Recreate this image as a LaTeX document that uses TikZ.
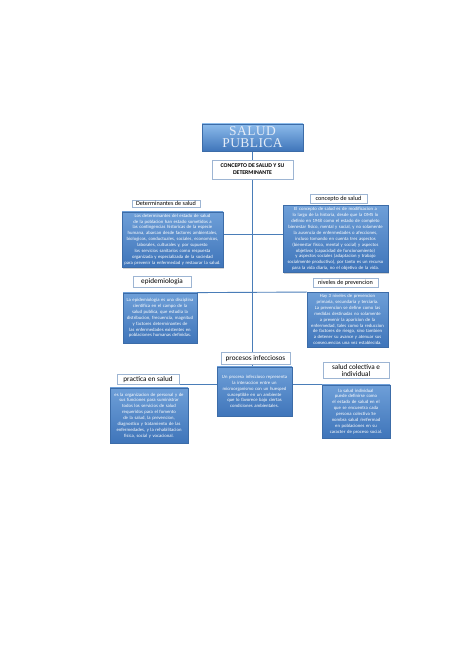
\documentclass[tikz,border=0pt]{standalone}
\usepackage{fontspec}
\setmainfont{Carlito}
\newfontfamily\titlefont[LetterSpace=3]{Liberation Serif}
\usetikzlibrary{positioning}
\usetikzlibrary{backgrounds}
\usetikzlibrary{shadows}
\definecolor{boxtop}{HTML}{6E9FD8}
\definecolor{boxbot}{HTML}{3F75BA}
\definecolor{boxedge}{HTML}{3C6CA8}
\definecolor{tagedge}{HTML}{9DB5D3}
\definecolor{linkblue}{HTML}{4A7DB8}
\definecolor{titletext}{HTML}{E4ECF7}
\definecolor{titletop}{HTML}{8CBBEB}
\newcommand\boxfont{\fontsize{4.7}{5.9}\selectfont\hyphenpenalty 10000\exhyphenpenalty 10000\relax}
\tikzset{
  bluebox/.style={draw=boxedge,line width=0.4pt,top color=boxtop,bottom color=boxbot,
    text=white,align=center,inner sep=2pt,font=\boxfont,
    drop shadow={shadow xshift=1pt,shadow yshift=-1.5pt,opacity=0.35}},
  tag/.style={draw=tagedge,line width=0.5pt,fill=white,align=center,inner sep=1.5pt,
    font=\fontsize{6.2}{7}\selectfont},
  link/.style={draw=linkblue,line width=0.9pt}
}
\begin{document}
\begin{tikzpicture}[x=1pt,y=1pt]
  \useasboundingbox (0,0) rectangle (474,669);
  \node[bluebox,minimum width=101pt,minimum height=27pt,text=titletext,top color=titletop,
    font=\titlefont\fontsize{13.5}{12}\selectfont](salud) at (252.5,531.5) {SALUD\\PUBLICA};
  \node[tag,minimum width=81pt,minimum height=19pt,
    font=\bfseries\fontsize{5.8}{6.8}\selectfont](concepto) at (252.5,499.5) {CONCEPTO DE SALUD Y SU\\DETERMINANTE};
  \node[bluebox,text width=97pt,minimum height=53pt](detbox) at (172.5,429.5) {Los determinantes del estado de salud de la poblacion han estado sometidos a las contingencias historicas de la especie humana, abarcan desde factores ambientales, biologicos, conductuales, sociales, economicos, laborales, culturales y, por supuesto los servicios sanitarios como respuesta organizada y especializada de la sociedad para prevenir la enfermedad y restaurar la salud.};
  \node[above=4pt of detbox,xshift=-6.5pt,tag,minimum width=68pt](detlabel) {Determinantes de salud};
  \node[bluebox,text width=101pt,minimum height=56pt](concbox) at (335.5,430) {El concepto de salud es de modificacion a lo largo de la historia, desde que la OMS lo definio en 1948 como el estado de completo bienestar fisico, mental y social, y no solamente la ausencia de enfermedades o afecciones, incluso tomando en cuenta tres aspectos (bienestar fisico, mental y social) y aspectos objetivos (capacidad de funcionamiento) y aspectos sociales (adaptacion y trabajo socialmente productivo), por tanto es un recurso para la vida diaria, no el objetivo de la vida.};
  \node[above=2pt of concbox,xshift=3pt,tag,minimum width=57pt](conclabel) {concepto de salud};
  \node[bluebox,text width=70pt,minimum height=50pt](epibox) at (160,351) {La epidemiologia es una disciplina cientifica en el campo de la salud publica, que estudia la distribucion, frecuencia, magnitud y factores determinantes de las enfermedades existentes en poblaciones humanas definidas.};
  \node[above=5pt of epibox,xshift=2pt,tag,minimum width=58pt,minimum height=11pt,
    font=\fontsize{7.2}{8}\selectfont](epilabel) {epidemiologia};
  \node[bluebox,text width=77pt,minimum height=53pt](nivbox) at (347.5,349.5) {Hay 3 niveles de prevencion primaria, secundaria y terciaria. La prevencion se define como las medidas destinadas no solamente a prevenir la aparicion de la enfermedad, tales como la reduccion de factores de riesgo, sino tambien a detener su avance y atenuar sus consecuencias una vez establecida.};
  \node[above=5pt of nivbox,xshift=-2pt,tag,minimum width=65pt](nivlabel) {niveles de prevencion};
  \node[bluebox,text width=71pt,minimum height=49pt](procbox) at (254.5,277.5) {Un proceso infeccioso representa la interaccion entre un microorganismo con un huesped susceptible en un ambiente que lo favorece bajo ciertas condiciones ambientales.};
  \node[above=2pt of procbox,xshift=1pt,tag,minimum width=69pt,minimum height=12pt,
    font=\fontsize{7.2}{8}\selectfont](proclabel) {procesos infecciosos};
  \node[bluebox,text width=74pt,minimum height=55pt](pracbox) at (149,253.5) {es la organizacion de personal y de sus funciones para suministrar todos los servicios de salud requeridos para el fomento de la salud, la prevencion, diagnostico y tratamiento de las enfermedades, y la rehabilitacion fisica, social y vocacional.};
  \node[above=3pt of pracbox,xshift=-1pt,tag,minimum width=62pt,minimum height=10pt,
    font=\fontsize{7.2}{8}\selectfont](praclabel) {practica en salud};
  \node[bluebox,text width=64pt,minimum height=53pt](salbox) at (356,257.5) {la salud individual puede definirse como el estado de salud en el que se encuentra cada\\persona colectiva Se nombra salud /enfermad en poblaciones en su caracter de proceso social.};
  \node[above=6pt of salbox,tag,minimum width=66pt,minimum height=16pt,
    font=\fontsize{7.2}{7.8}\selectfont](sallabel) {salud colectiva e\\individual};
  \begin{scope}[on background layer]
    \draw[link] (salud.south) -- (salud.south |- procbox.north);
    \draw[link] ([yshift=5pt]detbox.east) -- ([yshift=5pt]detbox.east -| concbox.west);
    \draw[link] (epibox.north) -- (nivbox.north west);
    \draw[link] ([xshift=-4pt]praclabel.south east) -- (procbox.west |- praclabel.south east);
    \draw[link] (procbox.east |- salbox.north) -- (salbox.north west);
  \end{scope}
\end{tikzpicture}
\end{document}
